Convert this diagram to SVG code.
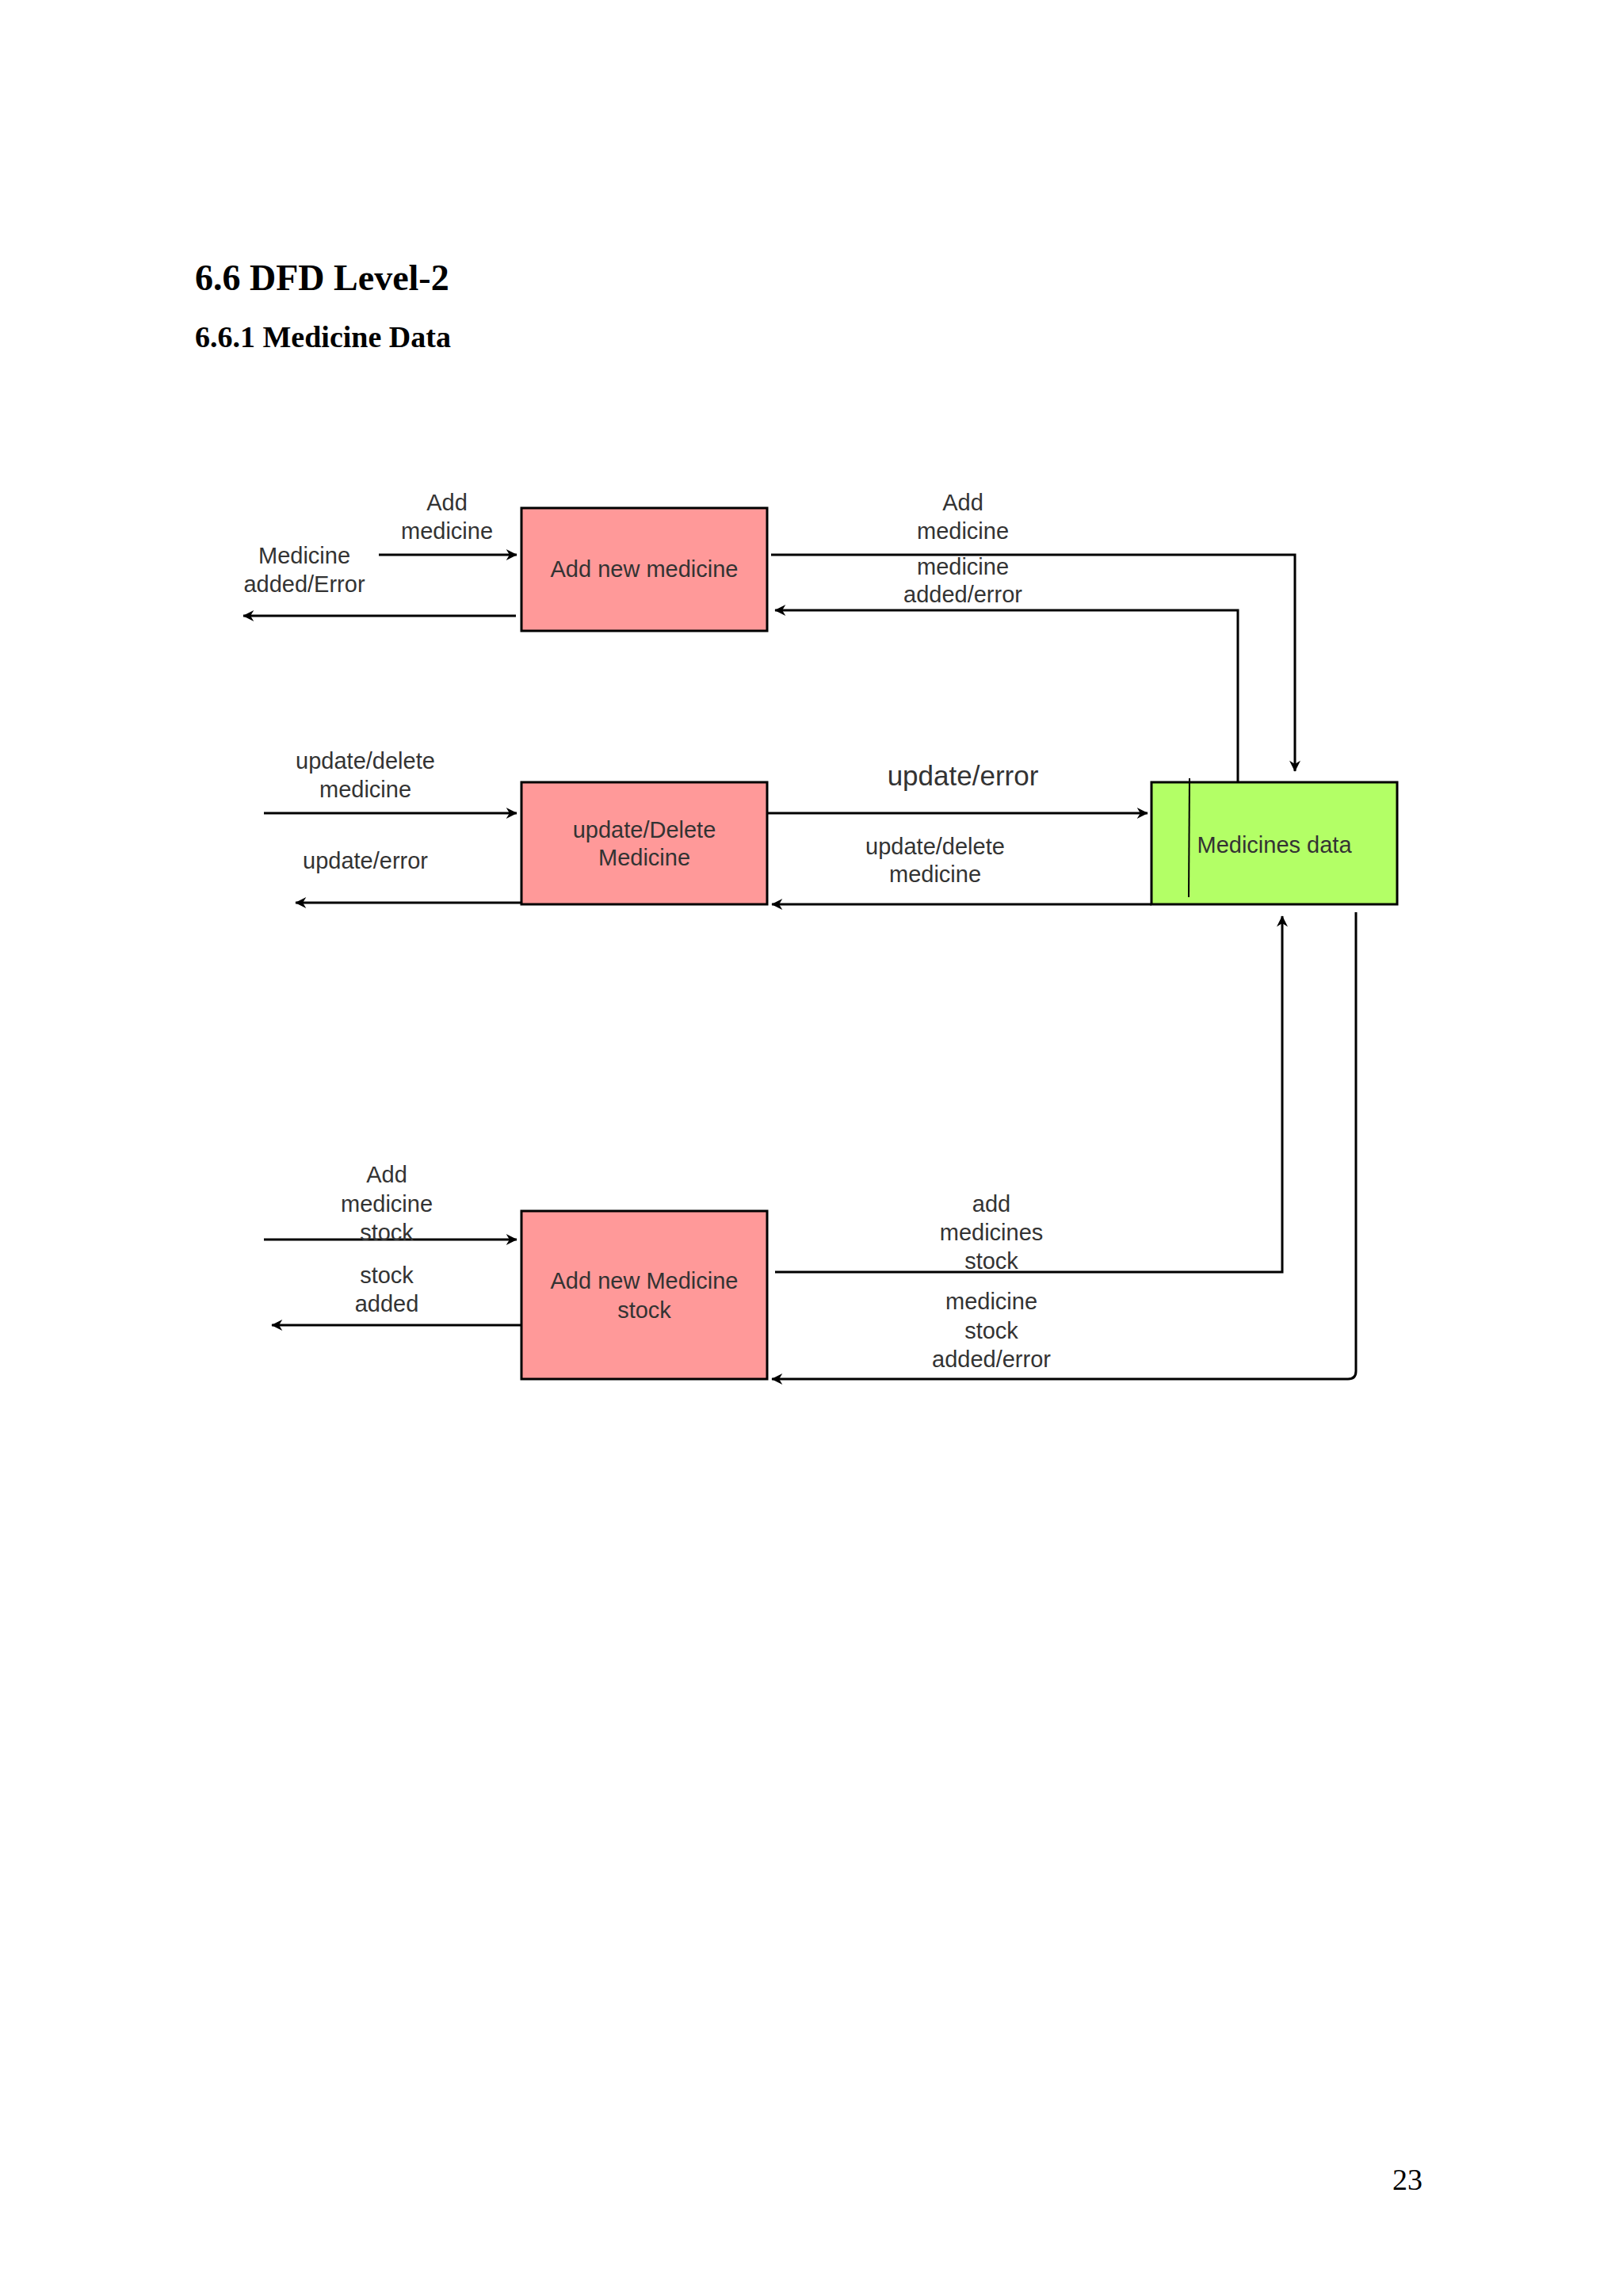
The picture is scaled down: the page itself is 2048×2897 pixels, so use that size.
<svg xmlns="http://www.w3.org/2000/svg" width="2048" height="2897" viewBox="0 0 2048 2897">
<style>
.h{font-family:"Liberation Serif",serif;font-weight:bold;fill:#000}
.t{font-family:"Liberation Sans",Arial,sans-serif;font-size:29px;fill:#333;text-anchor:middle;dominant-baseline:central}
.p{fill:#f99;stroke:#000;stroke-width:3}
.c{fill:none;stroke:#000;stroke-width:3}
</style>
<defs><marker id="a" viewBox="0 0 10 10" refX="9" refY="5" markerWidth="7" markerHeight="7" orient="auto" markerUnits="userSpaceOnUse" style="overflow:visible"><path d="M0,0 L10,5 L0,10 L3,5 Z" fill="#000" transform="scale(2)translate(-5,-2.5)"/></marker></defs>
<rect width="2048" height="2897" fill="#fff"/>
<text class="h" x="246" y="366" font-size="46">6.6 DFD Level-2</text>
<text class="h" x="246" y="438" font-size="38">6.6.1 Medicine Data</text>
<text x="1776" y="2763" font-family="Liberation Serif,serif" font-size="38" text-anchor="middle">23</text>
<g id="connectors">
<path class="c" d="M478,700 H652" marker-end="url(#a)"/>
<path class="c" d="M651,777 H307" marker-end="url(#a)"/>
<path class="c" d="M973,700 H1634 V973" marker-end="url(#a)"/>
<path class="c" d="M1562,986 V770 H978" marker-end="url(#a)"/>
<path class="c" d="M333,1026 H652" marker-end="url(#a)"/>
<path class="c" d="M658,1139 H373" marker-end="url(#a)"/>
<path class="c" d="M968,1026 H1448" marker-end="url(#a)"/>
<path class="c" d="M1453,1141 H974" marker-end="url(#a)"/>
<path class="c" d="M333,1564 H652" marker-end="url(#a)"/>
<path class="c" d="M658,1672 H343" marker-end="url(#a)"/>
<path class="c" d="M978,1605 H1618 V1156" marker-end="url(#a)"/>
<path class="c" d="M1711,1151 V1730 Q1711,1740 1701,1740 H974" marker-end="url(#a)"/>
<g class="t">
<text x="564" y="634">Add</text><text x="564" y="670">medicine</text>
<text x="384" y="701">Medicine</text><text x="384" y="737">added/Error</text>
<text x="1215" y="634">Add</text><text x="1215" y="670">medicine</text>
<text x="1215" y="715">medicine</text><text x="1215" y="750">added/error</text>
<text x="461" y="960">update/delete</text><text x="461" y="996">medicine</text>
<text x="461" y="1086">update/error</text>
<text x="1215" y="978" font-size="35">update/error</text>
<text x="1180" y="1068">update/delete</text><text x="1180" y="1103">medicine</text>
<text x="488" y="1482">Add</text><text x="488" y="1519">medicine</text><text x="488" y="1555">stock</text>
<text x="488" y="1609">stock</text><text x="488" y="1645">added</text>
<text x="1251" y="1519">add</text><text x="1251" y="1555">medicines</text><text x="1251" y="1591">stock</text>
<text x="1251" y="1642">medicine</text><text x="1251" y="1679">stock</text><text x="1251" y="1715">added/error</text>
</g>
</g>
<g id="n1"><rect class="p" x="658" y="641" width="310" height="155"/><text class="t" x="813" y="718">Add new medicine</text></g>
<g id="n2"><rect class="p" x="658" y="987" width="310" height="154"/><text class="t" x="813" y="1047">update/Delete</text><text class="t" x="813" y="1082">Medicine</text></g>
<g id="n3"><rect class="p" x="658" y="1528" width="310" height="212"/><text class="t" x="813" y="1616">Add new Medicine</text><text class="t" x="813" y="1653">stock</text></g>
<g id="store"><rect x="1453" y="987" width="310" height="154" fill="#b3ff66" stroke="#000" stroke-width="3"/><line x1="1501" y1="982" x2="1500" y2="1132" stroke="#000" stroke-width="2"/><text class="t" x="1608" y="1066">Medicines data</text></g>
</svg>
